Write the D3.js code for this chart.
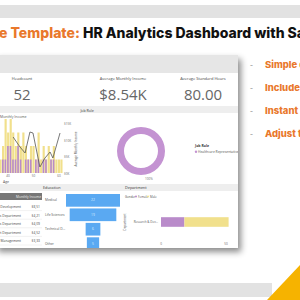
<!DOCTYPE html>
<html>
<head>
<meta charset="utf-8">
<script src="https://cdn.jsdelivr.net/npm/d3@7"></script>
<style>
  body { margin: 0; background: #fff; }
  svg { display: block; font-family: "Open Sans", "Liberation Sans", sans-serif; }
</style>
</head>
<body>
<div id="chart"></div>
<script>
// ---- data ----
var ages = [37, 38, 39, 40, 41, 42, 43, 44, 45, 46, 47, 48, 49, 50, 51, 52, 53, 54, 55, 56, 57, 58, 59, 60, 61];
var maleCount = [1, 2, 4, 3, 4, 3, 2, 3, 2, 3, 2, 1, 2, 2, 1, 3, 1, 2, 1, 2, 1, 2, 1, 1, 1];
var femaleCount = [0, 1, 1, 2, 2, 1, 1, 2, 1, 0, 1, 1, 1, 0, 1, 1, 0, 1, 1, 0, 1, 1, 0, 0, 0];
var lineAges = [42, 44.7, 46.7, 48.6, 49.8, 52.5, 54.5, 56.5, 57.6, 60.4];
var lineIncome = [11100, 8100, 6300, 12600, 12300, 2100, 4800, 6600, 4800, 12300];
var incomeTicks = ["$15K", "$10K", "$5K", "$0K"];

var kpiLabels = ["Headcount", "Average Monthly Income", "Average Standard Hours"];
var kpiValues = ["52", "$8.54K", "80.00"];

var jobRoles = ["Healthcare Representative"];
var jobRoleCounts = [52];

var tableRows = ["Research & Development", "Human Resources Department", "Sales Department", "Support Department", "Management"];
var tableIncome = ["$8,51", "$4,21", "$4,09", "$4,52", "$3,33"];

var eduFields = ["Medical", "Life Sciences", "Technical D...", "Other"];
var eduCounts = [22, 19, 6, 5];

var departments = ["Research & Dev..."];
var femaleDept = [18];
var maleDept = [34];

var bullets = ["Simple d", "Includes", "Instant I", "Adjust t"];

// ---- colours ----
var orange = "#e9782c", yellow = "#f1e08c", purple = "#b98bca", blue = "#5aa9f2";

var svg = d3.select("#chart").append("svg").attr("width", 300).attr("height", 300);

var defs = svg.append("defs");
var sh = defs.append("filter").attr("id", "shadow").attr("x", -0.1).attr("y", -0.1).attr("width", 1.2).attr("height", 1.2);
sh.append("feDropShadow").attr("dx", 3).attr("dy", 4).attr("stdDeviation", 3).attr("flood-color", "#000").attr("flood-opacity", 0.45);
defs.append("clipPath").attr("id", "panelClip").append("rect").attr("x", 0).attr("y", 55).attr("width", 238).attr("height", 193);

// page decorations
svg.append("rect").attr("x", 0).attr("y", 5).attr("width", 300).attr("height", 13).attr("fill", "#e2e2e2");
svg.append("rect").attr("x", 0).attr("y", 283).attr("width", 272).attr("height", 14).attr("fill", "#e2e2e2");
svg.append("path").attr("d", "M267,300 L300,265 L300,300 Z").attr("fill", "#f6b300");

var title = svg.append("text").attr("x", -1).attr("y", 38)
    .attr("font-family", "Inter, 'Liberation Sans', sans-serif").attr("font-weight", 800).attr("font-size", 14);
title.append("tspan").attr("fill", orange).text("e Template: ");
title.append("tspan").attr("fill", "#111").text("HR Analytics Dashboard with Sa");

// bullets on the right
var bl = svg.append("g");
bl.selectAll("text.dash").data(bullets).enter().append("text")
    .attr("x", 250).attr("y", function (d, i) { return 68 + i * 23; })
    .attr("font-size", 9).attr("fill", "#999").text("-");
bl.selectAll("text.item").data(bullets).enter().append("text")
    .attr("x", 265).attr("y", function (d, i) { return 68 + i * 23; })
    .attr("font-family", "Inter, 'Liberation Sans', sans-serif").attr("font-weight", 800)
    .attr("font-size", 9.5).attr("fill", orange).text(function (d) { return d; });

// dashboard panel
svg.append("rect").attr("x", -5).attr("y", 55).attr("width", 243).attr("height", 193)
    .attr("fill", "#fff").attr("filter", "url(#shadow)");
var panel = svg.append("g").attr("clip-path", "url(#panelClip)");
panel.append("rect").attr("x", 0).attr("y", 55).attr("width", 238).attr("height", 18).attr("fill", "#e6e6e6");

// KPI cards
var kpiX = [22, 123, 203];
kpiLabels.forEach(function (k, i) {
    panel.append("text").attr("x", kpiX[i]).attr("y", 80).attr("text-anchor", "middle")
        .attr("font-size", 4).attr("fill", "#444").text(k);
    panel.append("text").attr("x", kpiX[i]).attr("y", 100).attr("text-anchor", "middle")
        .attr("font-size", 15).attr("fill", "#666").text(kpiValues[i]);
});

// section header band
panel.append("rect").attr("x", 0).attr("y", 106).attr("width", 238).attr("height", 7).attr("fill", "#eeeeee");
panel.append("text").attr("x", 87).attr("y", 111.5).attr("text-anchor", "middle")
    .attr("font-size", 3.5).attr("fill", "#333").text("Job Role");

// ---- combo chart: count by age + avg income line ----
var x = d3.scaleBand().domain(ages).range([-0.9, 62.9]).padding(0.15);
var xl = d3.scaleLinear().domain([40, 60]).range([8, 59]);
var yc = d3.scaleLinear().domain([0, 4]).range([173, 119]);
var yi = d3.scaleLinear().domain([0, 15000]).range([174, 124]);

panel.append("text").attr("x", 0).attr("y", 118).attr("font-size", 3.5).attr("fill", "#555").text("Monthly Income");

var cg = panel.append("g");
cg.selectAll("rect.m").data(ages).enter().append("rect")
    .attr("x", function (d) { return x(d); })
    .attr("y", function (d, i) { return yc(maleCount[i]); })
    .attr("width", x.bandwidth())
    .attr("height", function (d, i) { return yc(0) - yc(maleCount[i]); })
    .attr("fill", yellow);
cg.selectAll("rect.f").data(ages).enter().append("rect")
    .attr("x", function (d) { return x(d); })
    .attr("y", function (d, i) { return yc(femaleCount[i]); })
    .attr("width", x.bandwidth() * 0.75)
    .attr("height", function (d, i) { return yc(0) - yc(femaleCount[i]); })
    .attr("fill", purple);

var line = d3.line().x(function (d) { return xl(d[0]); }).y(function (d) { return yi(d[1]); });
cg.append("path").datum(d3.zip(lineAges, lineIncome)).attr("d", line)
    .attr("fill", "none").attr("stroke", "#555").attr("stroke-width", 0.8);

cg.selectAll("text.it").data(incomeTicks).enter().append("text")
    .attr("x", 64).attr("y", function (d, i) { return yi(15000 - i * 5000) + 1; })
    .attr("font-size", 3).attr("fill", "#666").text(function (d) { return d; });
cg.append("text").attr("transform", "translate(77,149) rotate(-90)").attr("text-anchor", "middle")
    .attr("font-size", 3).attr("fill", "#555").text("Average Monthly Income");
cg.selectAll("text.xt").data([40, 50, 60]).enter().append("text")
    .attr("x", function (d) { return xl(d); }).attr("y", 177).attr("text-anchor", "middle")
    .attr("font-size", 3).attr("fill", "#666").text(function (d) { return d; });
cg.append("text").attr("x", 3).attr("y", 183).attr("font-size", 3.5).attr("fill", "#555").text("Age");

// ---- donut ----
var pie = d3.pie().sort(null);
var arc = d3.arc().innerRadius(17).outerRadius(24);
var dg = panel.append("g").attr("transform", "translate(141,151)");
dg.selectAll("path").data(pie(jobRoleCounts)).enter().append("path")
    .attr("d", arc).attr("fill", "#c493d2");
panel.append("text").attr("x", 145).attr("y", 180).attr("font-size", 3).attr("fill", "#666").text("100%");
panel.append("text").attr("x", 195).attr("y", 147).attr("font-size", 3.5).attr("font-weight", 700).attr("fill", "#333").text("Job Role");
panel.selectAll("circle.lg").data(jobRoles).enter().append("circle")
    .attr("cx", 196).attr("cy", 151.8).attr("r", 1.2).attr("fill", "#c493d2");
panel.selectAll("text.lg").data(jobRoles).enter().append("text")
    .attr("x", 198).attr("y", 153).attr("font-size", 3.3).attr("fill", "#555").text(function (d) { return d; });

// bottom header band
panel.append("rect").attr("x", 0).attr("y", 184).attr("width", 238).attr("height", 7).attr("fill", "#eeeeee");

// ---- table ----
panel.append("rect").attr("x", 0).attr("y", 193).attr("width", 42).attr("height", 7).attr("fill", "#777");
panel.append("text").attr("x", 41).attr("y", 198).attr("text-anchor", "end").attr("font-size", 3.3)
    .attr("fill", "#eee").text("Monthly Income");
var ty = d3.scaleBand().domain(tableRows).range([202, 245]);
panel.selectAll("line.tr").data(tableRows).enter().append("line")
    .attr("x1", 0).attr("x2", 42)
    .attr("y1", function (d) { return ty(d) + ty.bandwidth(); })
    .attr("y2", function (d) { return ty(d) + ty.bandwidth(); })
    .attr("stroke", "#ddd").attr("stroke-width", 0.4);
panel.selectAll("text.tr").data(tableRows).enter().append("text")
    .attr("x", 21).attr("y", function (d) { return ty(d) + 6; }).attr("text-anchor", "end")
    .attr("font-size", 3.3).attr("fill", "#444").text(function (d) { return d; });
panel.selectAll("text.tv").data(tableIncome).enter().append("text")
    .attr("x", 40).attr("y", function (d, i) { return ty(tableRows[i]) + 6; }).attr("text-anchor", "end")
    .attr("font-size", 3.3).attr("fill", "#444").text(function (d) { return d; });

// ---- education funnel ----
panel.append("text").attr("x", 43).attr("y", 189).attr("font-size", 3.8).attr("fill", "#333").text("Education");
var ey = d3.scaleBand().domain(eduFields).range([194, 250]).paddingInner(0.12);
var ew = d3.scaleLinear().domain([0, 22]).range([0, 54]);
panel.selectAll("rect.ed").data(eduFields).enter().append("rect")
    .attr("x", function (d, i) { return 93 - ew(eduCounts[i]) / 2; })
    .attr("y", function (d) { return ey(d); })
    .attr("width", function (d, i) { return ew(eduCounts[i]); })
    .attr("height", ey.bandwidth())
    .attr("fill", blue);
panel.selectAll("text.el").data(eduFields).enter().append("text")
    .attr("x", 45).attr("y", function (d) { return ey(d) + ey.bandwidth() / 2 + 1; })
    .attr("font-size", 3.3).attr("fill", "#555").text(function (d) { return d; });
panel.selectAll("text.ev").data(eduFields).enter().append("text")
    .attr("x", 93).attr("y", function (d) { return ey(d) + ey.bandwidth() / 2 + 1; }).attr("text-anchor", "middle")
    .attr("font-size", 3.3).attr("fill", "#dbeeff").text(function (d, i) { return eduCounts[i]; });

// ---- department stacked bar ----
panel.append("text").attr("x", 125).attr("y", 189).attr("font-size", 3.8).attr("fill", "#333").text("Department");
panel.append("text").attr("x", 125).attr("y", 197.5).attr("font-size", 3).attr("fill", "#444").text("Gender");
panel.append("circle").attr("cx", 136).attr("cy", 196.5).attr("r", 1).attr("fill", purple);
panel.append("text").attr("x", 138).attr("y", 197.5).attr("font-size", 3).attr("fill", "#555").text("Female");
panel.append("circle").attr("cx", 148).attr("cy", 196.5).attr("r", 1).attr("fill", yellow);
panel.append("text").attr("x", 150).attr("y", 197.5).attr("font-size", 3).attr("fill", "#555").text("Male");

var dx = d3.scaleLinear().domain([0, 50]).range([161, 226]);
var dy = d3.scaleBand().domain(departments).range([214, 230]).padding(0.25);
panel.selectAll("rect.df").data(departments).enter().append("rect")
    .attr("x", dx(0)).attr("y", function (d) { return dy(d); })
    .attr("width", function (d, i) { return dx(femaleDept[i]) - dx(0); })
    .attr("height", dy.bandwidth()).attr("fill", purple);
panel.selectAll("rect.dm").data(departments).enter().append("rect")
    .attr("x", function (d, i) { return dx(femaleDept[i]); }).attr("y", function (d) { return dy(d); })
    .attr("width", function (d, i) { return dx(femaleDept[i] + maleDept[i]) - dx(femaleDept[i]); })
    .attr("height", dy.bandwidth()).attr("fill", yellow);
panel.selectAll("text.dl").data(departments).enter().append("text")
    .attr("x", 158).attr("y", function (d) { return dy(d) + dy.bandwidth() / 2 + 1; }).attr("text-anchor", "end")
    .attr("font-size", 3).attr("fill", "#555").text(function (d) { return d; });
panel.append("text").attr("transform", "translate(126,222) rotate(-90)").attr("text-anchor", "middle")
    .attr("font-size", 3).attr("fill", "#555").text("Department");
panel.selectAll("text.dt").data([0, 50]).enter().append("text")
    .attr("x", function (d) { return dx(d); }).attr("y", 244.5).attr("text-anchor", "middle")
    .attr("font-size", 3).attr("fill", "#666").text(function (d) { return d; });
</script>
</body>
</html>
